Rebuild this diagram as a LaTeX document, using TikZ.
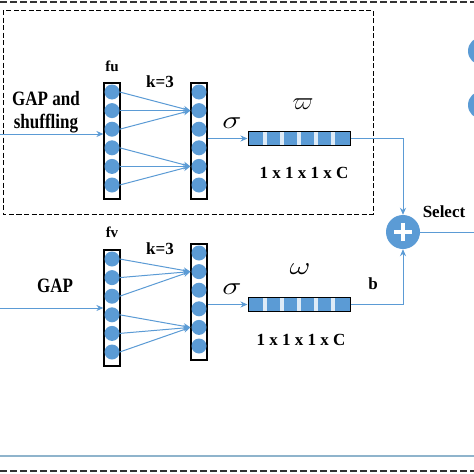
\documentclass[tikz,border=0pt]{standalone}
\usepackage{fontspec}
\setmainfont{Liberation Serif}
\usetikzlibrary{arrows.meta}
\definecolor{nblue}{HTML}{5B9BD5}
\definecolor{lblue}{HTML}{8FB4CC}
\definecolor{dgray}{HTML}{333333}
\newcommand{\vstretch}[1]{\scalebox{1}[1.2]{#1}}
\newcommand{\hstretch}[1]{\scalebox{1.3}[1]{#1}}
\tikzset{
  colbox/.style={draw=black, line width=1.2pt, fill=white, minimum width=16pt, minimum height=116pt, inner sep=0pt},
  neuron/.style={circle, fill=nblue, minimum size=15pt, inner sep=0pt},
  conn/.style={draw=nblue, line width=1pt, -{Stealth[length=7pt,width=6pt]}},
  plainline/.style={draw=nblue, line width=1pt},
  lbl/.style={font=\bfseries\fontsize{17}{18}\selectfont, inner sep=0pt},
  smlbl/.style={font=\bfseries\fontsize{15}{17}\selectfont, inner sep=0pt},
  greek/.style={font=\fontsize{25}{25}\selectfont, inner sep=0pt},
  barbox/.style={draw=black, line width=1pt, fill=nblue, minimum width=102pt, minimum height=14pt, inner sep=0pt,
    path picture={\foreach \k in {1,...,5}{\fill[white!80!nblue] ([xshift=\k*17pt-1.8pt]path picture bounding box.south west) rectangle ([xshift=\k*17pt+1.8pt]path picture bounding box.north west);}}},
  boxdash/.style={draw=black, line width=0.9pt, dash pattern=on 5pt off 2.5pt},
  edgedash/.style={draw=dgray, line width=2.2pt, dash pattern=on 7pt off 3pt},
}
\begin{document}
\begin{tikzpicture}[x=1pt,y=-1pt]
\useasboundingbox (0,0) rectangle (474,474);
\clip (0,0) rectangle (474,474);
\fill[white] (0,0) rectangle (474,474);
% frame lines
\draw[edgedash] (0,2) -- (474,2);
\draw[edgedash] (0,471) -- (474,471);
\draw[draw=lblue, line width=1.4pt] (0,456) -- (474,456);
\draw[boxdash] (3,10) rectangle (373,214);
% right partial circles
\node[circle, fill=nblue, minimum size=28pt, inner sep=0pt] (rc1) at (482,51) {};
\node[circle, fill=nblue, minimum size=28pt, inner sep=0pt] (rc2) at (482,105) {};
% ---------- top branch ----------
\node[colbox] (fu) at (112,141) {};
\node[colbox] (cu) at (199,141) {};
\foreach \i in {1,...,6}{
  \node[neuron] (fu\i) at (112,{92+18.6*(\i-1)}) {};
  \node[neuron] (cu\i) at (199,{92+18.6*(\i-1)}) {};
}
\foreach \i in {1,2,3}{\draw[conn] (fu\i.east) -- (cu2.west -| cu.west);}
\foreach \i in {4,5,6}{\draw[conn] (fu\i.east) -- (cu5.west -| cu.west);}
\coordinate (inu) at (0,134);
\draw[conn] (inu) -- (inu -| fu.west);
\node[smlbl] (lfu) at (112,66) {fu};
\node[lbl] (k1) at (160,82) {k=3};
\node[lbl] (gaps1) at (46,99) {\vstretch{GAP and}};
\node[lbl] (gaps2) at (46,124) {\vstretch{shuffling}};
\node[barbox] (baru) at (299,138.5) {};
\draw[conn] (cu.east |- baru.west) -- (baru.west);
\node[greek] (sigu) at (232,123) {\hstretch{$\sigma$}};
\node[greek] (varpi) at (303,104) {$\varpi$};
\node[lbl] (dimu) at (304,173) {1 x 1 x 1 x C};
% ---------- bottom branch ----------
\node[colbox] (fv) at (112,308) {};
\node[colbox] (cv) at (199,302) {};
\foreach \i in {1,...,6}{
  \node[neuron] (fv\i) at (112,{259+18.6*(\i-1)}) {};
  \node[neuron] (cv\i) at (199,{253+18.6*(\i-1)}) {};
}
\foreach \i in {1,2,3}{\draw[conn] (fv\i.east) -- (cv2.west -| cv.west);}
\foreach \i in {4,5,6}{\draw[conn] (fv\i.east) -- (cv5.west -| cv.west);}
\coordinate (inv) at (0,308);
\draw[conn] (inv) -- (inv -| fv.west);
\node[smlbl] (lfv) at (112,232) {fv};
\node[lbl] (k2) at (160,249) {k=3};
\node[lbl] (gap) at (55,286) {\vstretch{GAP}};
\node[barbox] (barv) at (299,304.5) {};
\draw[conn] (cv.east |- barv.west) -- (barv.west);
\node[greek] (sigv) at (232,289) {\hstretch{$\sigma$}};
\node[greek] (omega) at (300,269) {\hstretch{$\omega$}};
\node[lbl] (dimv) at (301,340) {1 x 1 x 1 x C};
\node[lbl] (b) at (373,284) {b};
% ---------- fusion ----------
\node[circle, fill=nblue, minimum size=34pt, inner sep=0pt] (plus) at (403,232) {};
\draw[white, line width=4pt] ([xshift=-9pt]plus.center) -- ([xshift=9pt]plus.center);
\draw[white, line width=4pt] ([yshift=-9pt]plus.center) -- ([yshift=9pt]plus.center);
\draw[conn] (baru.east) -| (plus.north);
\draw[conn] (barv.east) -| (plus.south);
\coordinate (outr) at (474,232);
\draw[plainline] (plus.east) -- (outr);
\node[lbl] (sel) at (444,212) {Select};
\end{tikzpicture}
\end{document}
